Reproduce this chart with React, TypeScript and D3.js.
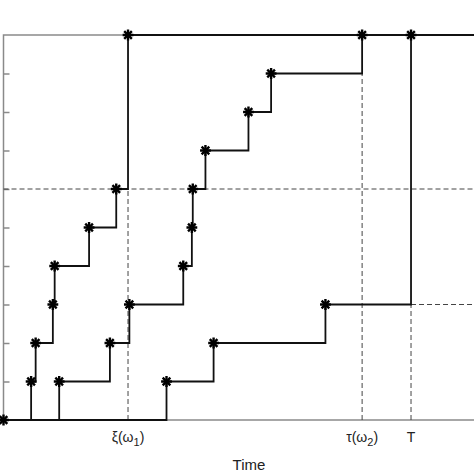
import { useEffect, useRef } from "react";
import * as d3 from "d3";

// jump times and the level reached at each jump, for the three sample paths
const path1Times = [0.61, 0.71, 1.09, 1.13, 1.89, 2.49, 2.75];
const path1Levels = [1, 2, 3, 4, 5, 6, 10];
const path2Times = [1.23, 2.35, 2.78, 3.97, 4.16, 4.18, 4.46, 5.41, 5.91, 7.92];
const path2Levels = [1, 2, 3, 4, 5, 6, 7, 8, 9, 10];
const path3Times = [3.6, 4.64, 7.11, 9.0];
const path3Levels = [1, 2, 3, 10];

const xi = 2.75;
const tau = 7.92;
const bigT = 9.0;
const tMax = 10.5;
const yTicks = [1, 2, 3, 4, 5, 6, 7, 8, 9];

type Pt = { t: number; v: number };

const buildStep = (times: number[], levels: number[]): Pt[] => {
  const pts: Pt[] = [{ t: 0, v: 0 }];
  let prev = 0;
  times.forEach((t, i) => {
    pts.push({ t, v: prev });
    pts.push({ t, v: levels[i] });
    prev = levels[i];
  });
  pts.push({ t: tMax, v: prev });
  return pts;
};

export default function App() {
  const ref = useRef<SVGSVGElement>(null);

  useEffect(() => {
    const svg = d3.select(ref.current);
    svg.selectAll("*").remove();

    const x = d3.scaleLinear().domain([0, tMax]).range([3.5, 3.5 + tMax * 45.28]);
    const y = d3.scaleLinear().domain([0, 10]).range([420, 35]);
    const gray = "#8a8a8a";
    const dashCol = "#444";
    const font = "'Liberation Sans', Arial, sans-serif";

    // axes box
    svg
      .append("rect")
      .attr("x", x(0))
      .attr("y", y(10))
      .attr("width", x(tMax) - x(0))
      .attr("height", y(0) - y(10))
      .attr("fill", "none")
      .attr("stroke", gray)
      .attr("stroke-width", 1.5);

    const yAxis = d3
      .axisRight(y)
      .tickValues(yTicks)
      .tickSize(6)
      .tickFormat(() => "");
    const ga = svg.append("g").attr("transform", `translate(${x(0)},0)`).call(yAxis);
    ga.select(".domain").remove();
    ga.selectAll("line").attr("stroke", gray).attr("stroke-width", 1.5);

    // dashed guides
    const dashes: [number, number, number, number][] = [
      [0, 6, tMax, 6],
      [bigT, 3, tMax, 3],
      [xi, 0, xi, 6],
      [tau, 0, tau, 9],
      [bigT, 0, bigT, 3],
    ];
    svg
      .selectAll("line.dash")
      .data(dashes)
      .enter()
      .append("line")
      .attr("class", "dash")
      .attr("x1", (d) => x(d[0]))
      .attr("y1", (d) => y(d[1]))
      .attr("x2", (d) => x(d[2]))
      .attr("y2", (d) => y(d[3]))
      .attr("stroke", dashCol)
      .attr("stroke-width", 1)
      .attr("stroke-dasharray", "5,3");

    const line = d3
      .line<Pt>()
      .x((d) => x(d.t))
      .y((d) => y(d.v));

    const paths = [
      [path1Times, path1Levels],
      [path2Times, path2Levels],
      [path3Times, path3Levels],
    ];

    paths.forEach(([times, levels]) => {
      svg
        .append("path")
        .attr("d", line(buildStep(times, levels)))
        .attr("fill", "none")
        .attr("stroke", "#111")
        .attr("stroke-width", 1.8);
    });

    const marks: Pt[] = [{ t: 0, v: 0 }];
    paths.forEach(([times, levels]) =>
      times.forEach((t, i) => marks.push({ t, v: levels[i] }))
    );
    const plus = d3.symbol(d3.symbolPlus, 40)();
    const cross = d3.symbol(d3.symbolTimes, 40)();
    [plus, cross].forEach((sym) => {
      svg
        .append("g")
        .selectAll("path")
        .data(marks)
        .enter()
        .append("path")
        .attr("d", sym)
        .attr("transform", (d) => `translate(${x(d.t)},${y(d.v)})`)
        .attr("fill", "none")
        .attr("stroke", "#000")
        .attr("stroke-width", 2.4);
    });

    // tick labels
    const labels: [number, string, string][] = [
      [xi, "ξ(ω", "1"],
      [tau, "τ(ω", "2"],
    ];
    labels.forEach(([t, main, sub]) => {
      const tx = svg
        .append("text")
        .attr("x", x(t))
        .attr("y", 442)
        .attr("text-anchor", "middle")
        .style("font-family", font)
        .style("font-size", "14px")
        .attr("fill", "#222");
      tx.append("tspan").text(main);
      tx.append("tspan").attr("dy", 4).style("font-size", "11px").text(sub);
      tx.append("tspan").attr("dy", -4).text(")");
    });
    svg
      .append("text")
      .attr("x", x(bigT))
      .attr("y", 442)
      .attr("text-anchor", "middle")
      .style("font-family", font)
      .style("font-size", "14px")
      .attr("fill", "#222")
      .text("T");

    svg
      .append("text")
      .attr("x", 249)
      .attr("y", 470)
      .attr("text-anchor", "middle")
      .style("font-family", font)
      .style("font-size", "15px")
      .attr("fill", "#222")
      .text("Time");
  }, []);

  return (
    <div style={{ position: "fixed", left: 0, top: 0, width: 474, height: 474, overflow: "hidden", background: "#fff" }}>
      <svg ref={ref} width={474} height={474}></svg>
    </div>
  );
}
